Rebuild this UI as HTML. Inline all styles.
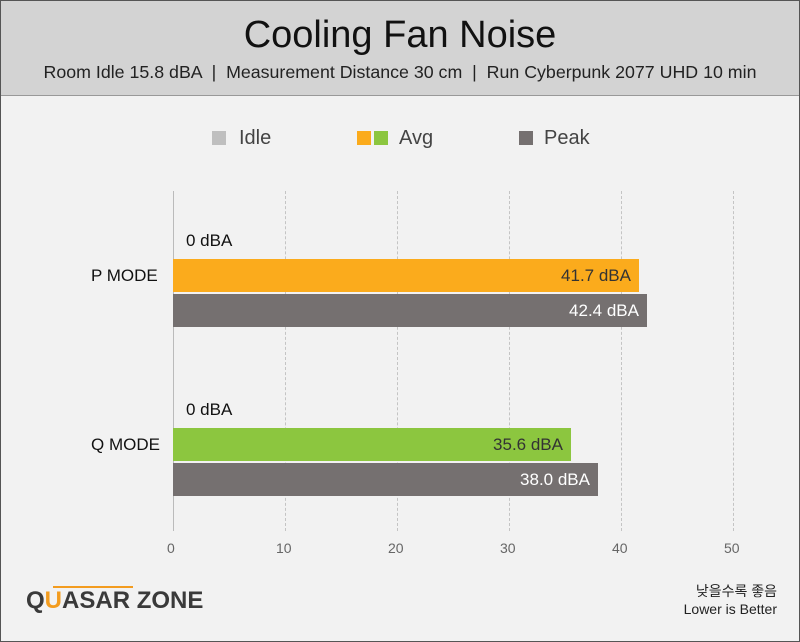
<!DOCTYPE html>
<html><head><meta charset="utf-8"><style>
body{margin:0;}
#c{position:relative;width:798px;height:640px;border:1px solid #555;background:#f2f2f2;font-family:"Liberation Sans","Noto Sans CJK KR",sans-serif;overflow:hidden;}
.a{position:absolute;white-space:nowrap;}
#hd{position:absolute;left:0;top:0;width:798px;height:94px;background:#d3d3d3;border-bottom:1px solid #999;}
.g{position:absolute;top:190px;height:340px;border-left:1px dashed #c4c4c4;}
.bar{position:absolute;left:172px;height:33px;}
.v{position:absolute;right:8px;top:7px;font-size:17px;}
</style></head><body><div id="c">
<div id="hd">
<div class="a" style="left:0;width:798px;text-align:center;top:13px;font-size:38px;color:#111;">Cooling Fan Noise</div>
<div class="a" style="left:0;width:798px;text-align:center;top:61px;font-size:17.8px;color:#222;">Room Idle 15.8 dBA &nbsp;| &nbsp;Measurement Distance 30 cm &nbsp;| &nbsp;Run Cyberpunk 2077 UHD 10 min</div>
</div>
<div class="a" style="left:211px;top:130px;width:14px;height:14px;background:#bfbfbf"></div>
<div class="a" style="left:238px;top:126px;font-size:20px;color:#444">Idle</div>
<div class="a" style="left:356px;top:130px;width:14px;height:14px;background:#fbab1c"></div>
<div class="a" style="left:373px;top:130px;width:14px;height:14px;background:#8cc63f"></div>
<div class="a" style="left:398px;top:126px;font-size:20px;color:#444">Avg</div>
<div class="a" style="left:518px;top:130px;width:14px;height:14px;background:#757070"></div>
<div class="a" style="left:543px;top:126px;font-size:20px;color:#444">Peak</div>
<div class="g" style="left:172px;border-left:1px solid #bbb"></div>
<div class="g" style="left:284px"></div><div class="g" style="left:396px"></div>
<div class="g" style="left:508px"></div><div class="g" style="left:620px"></div><div class="g" style="left:732px"></div>
<div class="a" style="left:185px;top:230px;font-size:17px;color:#111">0 dBA</div>
<div class="a" style="left:90px;top:265px;font-size:17px;color:#111">P MODE</div>
<div class="bar" style="top:258px;width:466px;background:#fbab1c"><span class="v" style="color:#333">41.7 dBA</span></div>
<div class="bar" style="top:293px;width:474px;background:#757070"><span class="v" style="color:#fff">42.4 dBA</span></div>
<div class="a" style="left:185px;top:399px;font-size:17px;color:#111">0 dBA</div>
<div class="a" style="left:90px;top:434px;font-size:17px;color:#111">Q MODE</div>
<div class="bar" style="top:427px;width:398px;background:#8cc63f"><span class="v" style="color:#333">35.6 dBA</span></div>
<div class="bar" style="top:462px;width:425px;background:#757070"><span class="v" style="color:#fff">38.0 dBA</span></div>
<div class="a" style="left:166px;top:539px;font-size:14px;color:#666">0</div>
<div class="a" style="left:275px;top:539px;font-size:14px;color:#666">10</div>
<div class="a" style="left:387px;top:539px;font-size:14px;color:#666">20</div>
<div class="a" style="left:499px;top:539px;font-size:14px;color:#666">30</div>
<div class="a" style="left:611px;top:539px;font-size:14px;color:#666">40</div>
<div class="a" style="left:723px;top:539px;font-size:14px;color:#666">50</div>
<div class="a" style="left:25px;top:586px;font-size:24px;font-weight:bold;color:#3a3a3a;">Q<span style="color:#f39c1f">U</span>ASAR ZONE</div>
<div class="a" style="left:52px;top:585px;width:80px;height:2px;background:#f39c1f"></div>
<div class="a" style="right:22px;top:580px;font-size:14px;color:#222;text-align:right">낮을수록 좋음<br>Lower is Better</div>
</div></body></html>
